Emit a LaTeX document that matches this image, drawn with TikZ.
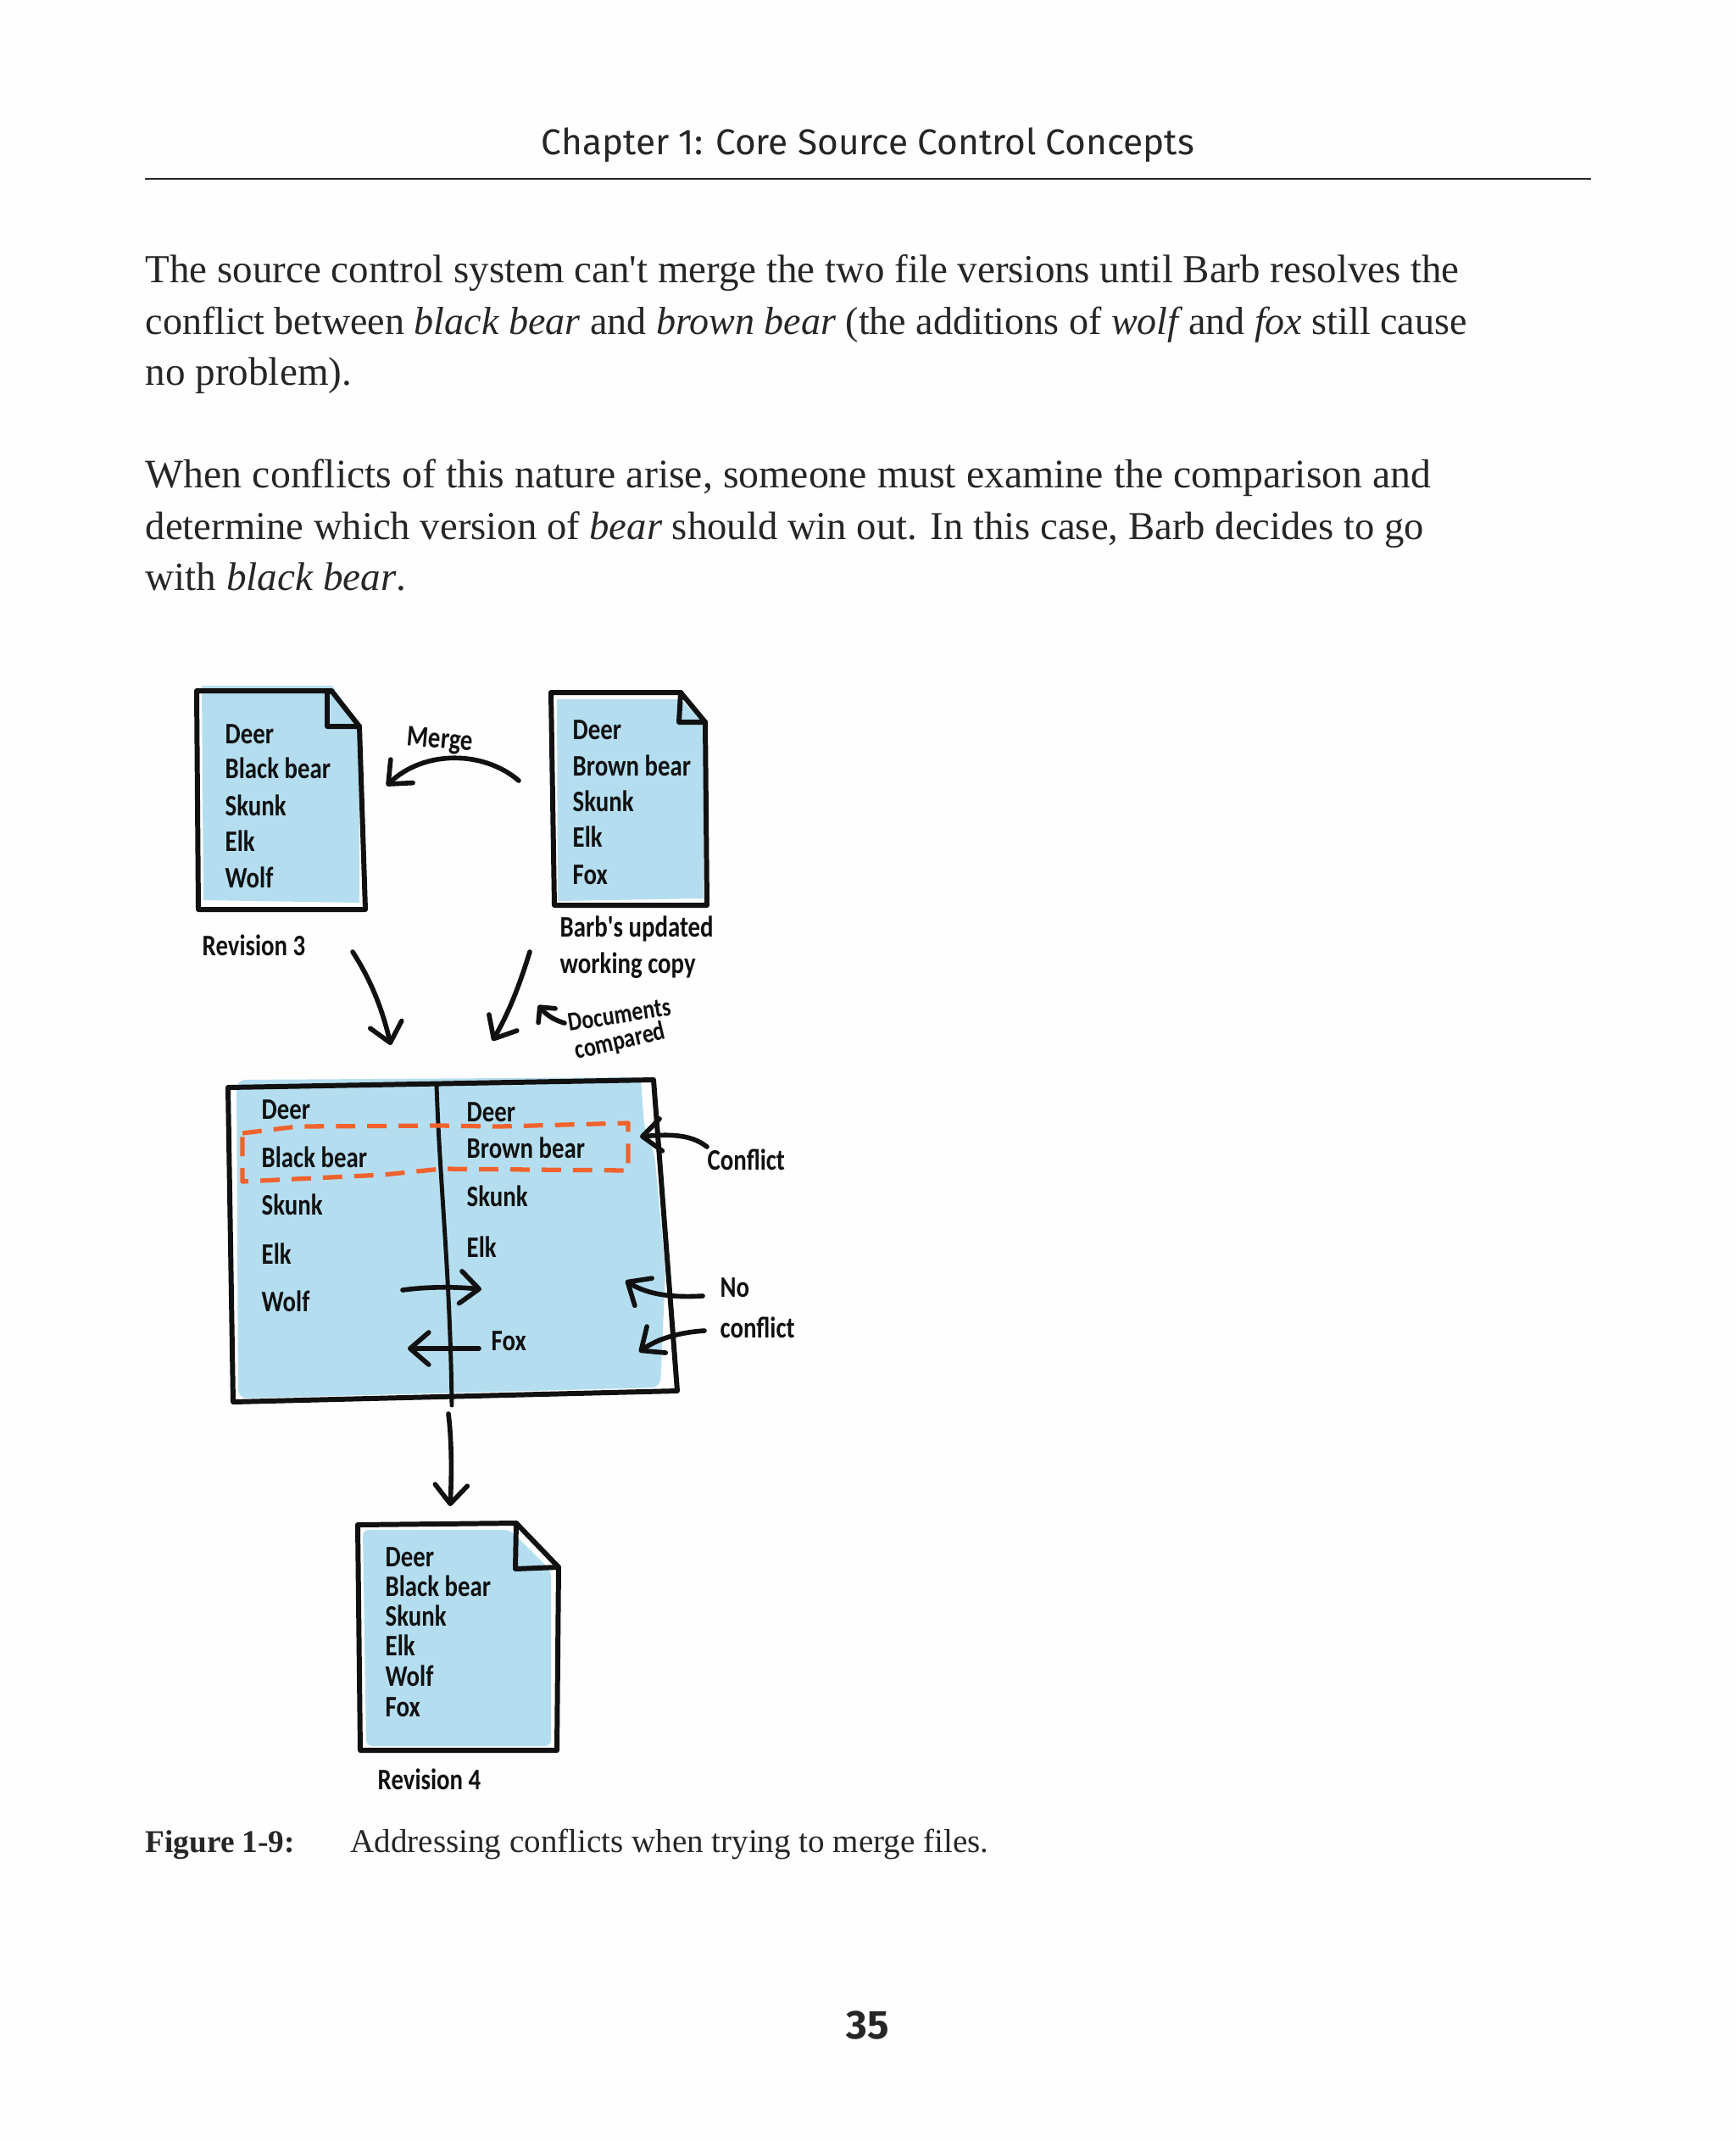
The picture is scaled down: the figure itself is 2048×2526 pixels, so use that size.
\documentclass[tikz,border=0pt]{standalone}
\usepackage{fontspec}
\usetikzlibrary{arrows.meta}
\setmainfont{Liberation Serif}
\newfontface\tickfont{Liberation Serif}
\newfontfamily\handfont[FakeStretch=0.82]{Carlito}
\newfontfamily\headfont{Fira Sans}
\definecolor{paper}{HTML}{FEFEFE}
\definecolor{sheet}{HTML}{B4DEF0}
\definecolor{ink}{HTML}{111111}
\definecolor{clash}{HTML}{F0622D}
\definecolor{print}{HTML}{262626}
\tikzset{
  bodyline/.style={anchor=base west, inner sep=0pt, text=print, font=\fontsize{#1}{15}\selectfont},
  bodyline/.default=13.4,
  hand/.style={anchor=base west, inner sep=0pt, text=ink, font=\handfont\bfseries\fontsize{10}{12}\selectfont},
  outline/.style={draw=ink, line width=1.7pt, line join=round, line cap=round},
  pen/.style={draw=ink, line width=1.6pt, line cap=round,
    -{Straight Barb[length=2.2mm, width=3.8mm, line width=1.6pt, round]}},
  smallpen/.style={draw=ink, line width=1.6pt, line cap=round,
    -{Straight Barb[length=1.3mm, width=2.6mm, line width=1.6pt, round]}}
}

\begin{document}
\begin{tikzpicture}[x=0.01cm, y=-0.01cm]
  \useasboundingbox[fill=paper] (0,0) rectangle (2048,2526);

  % page text
  \node[anchor=base, inner sep=0pt, text=print, font=\headfont\fontsize{12.05}{14}\selectfont] (header) at (1024,182)
    {Chapter 1: Core Source Control Concepts};
  \coordinate (ruleL) at (171,211);
  \coordinate (ruleR) at (1877,211);
  \draw[print, line width=0.7pt] (ruleL) -- (ruleR);
  \node[bodyline=13.35] (lineA) at (171,333) {The source control system can{\tickfont'}t merge the two file versions until Barb resolves the};
  \node[bodyline=13.1] (lineB) at (171,394) {conflict between {\itshape black bear} and {\itshape brown bear} (the additions of {\itshape wolf} and {\itshape fox} still cause};
  \node[bodyline] (lineC) at (171,454) {no problem).};
  \node[bodyline=13.6] (lineD) at (171,575) {When conflicts of this nature arise, someone must examine the comparison and};
  \node[bodyline=13.28] (lineE) at (171,636) {determine which version of {\itshape bear} should win out. In this case, Barb decides to go};
  \node[bodyline] (lineF) at (171,696) {with {\itshape black bear}.};
  \node[bodyline, font=\bfseries\fontsize{10.6}{14}\selectfont] (figNum) at (171,2185) {Figure 1-9:};
  \node[bodyline=11.1] (figText) at (413,2185) {Addressing conflicts when trying to merge files.};
  \node[anchor=base, inner sep=0pt, text=print, font=\headfont\bfseries\fontsize{13.5}{15}\selectfont] (pageNum) at (1024,2405) {35};

  % revision 3
  \fill[sheet] (238,809) -- (392,809) -- (424,857) -- (424,1065) -- (240,1062) -- cycle;
  \draw[outline] (232,815) -- (391,815) -- (424,857) -- (431,1073) -- (234,1073) -- cycle;
  \draw[outline] (391,815) -- (386,817) -- (386,857) -- (424,857);
  \node[hand] (revA1) at (265,877) {Deer};
  \node[hand] (revA2) at (265,918) {Black bear};
  \node[hand] (revA3) at (265,962) {Skunk};
  \node[hand] (revA4) at (265,1004) {Elk};
  \node[hand] (revA5) at (265,1047) {Wolf};
  \node[hand] (revA) at (238,1127) {Revision 3};

  % working copy
  \fill[sheet] (657,825) -- (803,825) -- (830,852) -- (830,1060) -- (658,1063) -- cycle;
  \draw[outline] (650,817) -- (803,817) -- (832,852) -- (834,1068) -- (654,1068) -- cycle;
  \draw[outline] (803,817) -- (801,852) -- (832,852);
  \node[hand] (copyA1) at (675,872) {Deer};
  \node[hand] (copyA2) at (675,915) {Brown bear};
  \node[hand] (copyA3) at (675,957) {Skunk};
  \node[hand] (copyA4) at (675,999) {Elk};
  \node[hand] (copyA5) at (675,1043) {Fox};
  \node[hand] (copyB) at (660,1105) {Barb's updated};
  \node[hand] (copyC) at (660,1148) {working copy};

  \node[hand, rotate=-5] (merge) at (479,879) {Merge};
  \node[hand, rotate=9, font=\handfont\bfseries\fontsize{9}{11}\selectfont] (docsA) at (671,1217) {Documents};
  \node[hand, rotate=13, font=\handfont\bfseries\fontsize{9}{11}\selectfont] (docsB) at (680,1250) {compared};

  % comparison sheet
  \fill[sheet, rounded corners=3pt] (279,1274) -- (756,1271) -- (760,1330) -- (772,1360) -- (785,1500) -- (779,1637) -- (281,1650) -- cycle;
  \draw[outline] (269,1283) -- (771,1274) -- (799,1641) -- (275,1654) -- cycle;
  \coordinate (splitTop) at (515,1280);
  \coordinate (splitEnd) at (533,1658);
  \draw[draw=ink, line width=1.4pt, line cap=round] (splitTop) .. controls (519,1400) and (531,1500) .. (splitEnd);
  \node[hand] (cmpA1) at (308,1320) {Deer};
  \node[hand] (cmpA2) at (308,1377) {Black bear};
  \node[hand] (cmpA3) at (308,1433) {Skunk};
  \node[hand] (cmpA4) at (308,1491) {Elk};
  \node[hand] (cmpA5) at (308,1547) {Wolf};
  \node[hand] (cmpB1) at (550,1323) {Deer};
  \node[hand] (cmpB2) at (550,1366) {Brown bear};
  \node[hand] (cmpB3) at (550,1423) {Skunk};
  \node[hand] (cmpB4) at (550,1483) {Elk};
  \node[hand] (cmpB5) at (579,1593) {Fox};
  \draw[clash, line width=1.5pt, dash pattern=on 6.5pt off 4pt, line join=round]
    (286,1337) -- (351,1329) -- (519,1328) -- (590,1329) -- (741,1325) -- (741,1381)
    -- (521,1379) -- (452,1386) -- (286,1394) -- cycle;

  \node[hand] (clashLabel) at (834,1380) {Conflict};
  \node[hand] (freeA) at (849,1530) {No};
  \node[hand] (freeB) at (849,1578) {conflict};

  % revision 4
  \fill[sheet, rounded corners=2pt] (428,1805) -- (602,1805) -- (650,1853) -- (650,2060) -- (432,2060) -- cycle;
  \draw[outline] (422,1799) -- (609,1797) -- (659,1849) -- (657,2065) -- (425,2065) -- cycle;
  \draw[outline] (609,1797) -- (608,1851) -- (659,1849);
  \node[hand] (revB1) at (454,1848) {Deer};
  \node[hand] (revB2) at (454,1883) {Black bear};
  \node[hand] (revB3) at (454,1918) {Skunk};
  \node[hand] (revB4) at (454,1953) {Elk};
  \node[hand] (revB5) at (454,1989) {Wolf};
  \node[hand] (revB6) at (454,2025) {Fox};
  \node[hand] (revB) at (445,2111) {Revision 4};

  % arrows
  \coordinate (mergeFrom) at (612,921);
  \coordinate (mergeTo) at (456,927);
  \coordinate (revAFrom) at (416,1123);
  \coordinate (revATo) at (461,1233);
  \coordinate (copyFrom) at (625,1123);
  \coordinate (copyTo) at (581,1228);
  \coordinate (docsFrom) at (666,1207);
  \coordinate (docsTo) at (635,1186);
  \coordinate (clashFrom) at (834,1353);
  \coordinate (clashTo) at (755,1341);
  \coordinate (wolfFrom) at (475,1522);
  \coordinate (wolfTo) at (568,1521);
  \coordinate (foxFrom) at (565,1591);
  \coordinate (foxTo) at (481,1591);
  \coordinate (freeAFrom) at (829,1529);
  \coordinate (freeATo) at (738,1511);
  \coordinate (freeBFrom) at (831,1570);
  \coordinate (freeBTo) at (754,1595);
  \coordinate (downFrom) at (529,1668);
  \coordinate (downTo) at (531,1777);
  \draw[pen] (mergeFrom) .. controls (570,885) and (500,885) .. (mergeTo);
  \draw[pen] (revAFrom) .. controls (440,1160) and (452,1195) .. (revATo);
  \draw[pen] (copyFrom) .. controls (612,1165) and (600,1195) .. (copyTo);
  \draw[smallpen] (docsFrom) .. controls (655,1204) and (645,1198) .. (docsTo);
  \draw[pen] (clashFrom) .. controls (815,1338) and (790,1338) .. (clashTo);
  \draw[pen] (wolfFrom) .. controls (505,1518) and (535,1518) .. (wolfTo);
  \draw[pen] (foxFrom) -- (foxTo);
  \draw[pen] (freeAFrom) .. controls (795,1531) and (765,1528) .. (freeATo);
  \draw[pen] (freeBFrom) .. controls (800,1572) and (775,1580) .. (freeBTo);
  \draw[pen] (downFrom) .. controls (533,1700) and (533,1740) .. (downTo);
\end{tikzpicture}
\end{document}
